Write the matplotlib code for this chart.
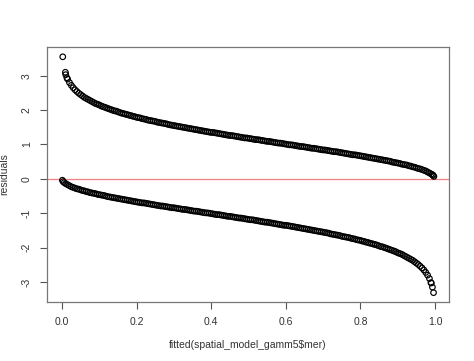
import matplotlib
matplotlib.use("Agg")
import matplotlib.pyplot as plt

# fitted probabilities (shared grids for the two bands)
fitted_mid = [0.01, 0.02, 0.03, 0.04, 0.05, 0.06, 0.07, 0.08, 0.09, 0.10,
              0.11, 0.12, 0.13, 0.14, 0.15, 0.16, 0.17, 0.18, 0.19, 0.20,
              0.21, 0.22, 0.23, 0.24, 0.25, 0.26, 0.27, 0.28, 0.29, 0.30,
              0.31, 0.32, 0.33, 0.34, 0.35, 0.36, 0.37, 0.38, 0.39, 0.40,
              0.41, 0.42, 0.43, 0.44, 0.45, 0.46, 0.47, 0.48, 0.49, 0.50,
              0.51, 0.52, 0.53, 0.54, 0.55, 0.56, 0.57, 0.58, 0.59, 0.60,
              0.61, 0.62, 0.63, 0.64, 0.65, 0.66, 0.67, 0.68, 0.69, 0.70,
              0.71, 0.72, 0.73, 0.74, 0.75, 0.76, 0.77, 0.78, 0.79, 0.80,
              0.81, 0.82, 0.83, 0.84, 0.85, 0.86, 0.87, 0.88, 0.89, 0.90,
              0.91, 0.92, 0.93, 0.94, 0.95, 0.96, 0.97, 0.98, 0.99]

fitted_half = [0.015, 0.025, 0.035, 0.045, 0.055, 0.065, 0.075, 0.085, 0.095, 0.105,
               0.115, 0.125, 0.135, 0.145, 0.155, 0.165, 0.175, 0.185, 0.195, 0.205,
               0.215, 0.225, 0.235, 0.245, 0.255, 0.265, 0.275, 0.285, 0.295, 0.305,
               0.315, 0.325, 0.335, 0.345, 0.355, 0.365, 0.375, 0.385, 0.395, 0.405,
               0.415, 0.425, 0.435, 0.445, 0.455, 0.465, 0.475, 0.485, 0.495, 0.505,
               0.515, 0.525, 0.535, 0.545, 0.555, 0.565, 0.575, 0.585, 0.595, 0.605,
               0.615, 0.625, 0.635, 0.645, 0.655, 0.665, 0.675, 0.685, 0.695, 0.705,
               0.715, 0.725, 0.735, 0.745, 0.755, 0.765, 0.775, 0.785, 0.795, 0.805,
               0.815, 0.825, 0.835, 0.845, 0.855, 0.865, 0.875, 0.885, 0.895, 0.905,
               0.915, 0.925, 0.935, 0.945, 0.955, 0.965, 0.975, 0.985]

# upper band (observed = 1)
upper_x = [0.002, 0.009, 0.013] + fitted_mid + fitted_half + [0.993, 0.995, 0.997]
upper_y = [3.55, 3.10, 2.94,
           3.03, 2.80, 2.65, 2.54, 2.45, 2.37, 2.31, 2.25, 2.19, 2.15,
           2.10, 2.06, 2.02, 1.98, 1.95, 1.91, 1.88, 1.85, 1.82, 1.79,
           1.77, 1.74, 1.71, 1.69, 1.67, 1.64, 1.62, 1.60, 1.57, 1.55,
           1.53, 1.51, 1.49, 1.47, 1.45, 1.43, 1.41, 1.39, 1.37, 1.35,
           1.34, 1.32, 1.30, 1.28, 1.26, 1.25, 1.23, 1.21, 1.19, 1.18,
           1.16, 1.14, 1.13, 1.11, 1.09, 1.08, 1.06, 1.04, 1.03, 1.01,
           0.99, 0.98, 0.96, 0.94, 0.93, 0.91, 0.89, 0.88, 0.86, 0.84,
           0.83, 0.81, 0.79, 0.78, 0.76, 0.74, 0.72, 0.70, 0.69, 0.67,
           0.65, 0.63, 0.61, 0.59, 0.57, 0.55, 0.53, 0.51, 0.48, 0.46,
           0.43, 0.41, 0.38, 0.35, 0.32, 0.29, 0.25, 0.20, 0.14,
           2.90, 2.72, 2.59, 2.49, 2.41, 2.34, 2.28, 2.22, 2.17, 2.12,
           2.08, 2.04, 2.00, 1.97, 1.93, 1.90, 1.87, 1.84, 1.81, 1.78,
           1.75, 1.73, 1.70, 1.68, 1.65, 1.63, 1.61, 1.58, 1.56, 1.54,
           1.52, 1.50, 1.48, 1.46, 1.44, 1.42, 1.40, 1.38, 1.36, 1.35,
           1.33, 1.31, 1.29, 1.27, 1.26, 1.24, 1.22, 1.20, 1.19, 1.17,
           1.15, 1.14, 1.12, 1.10, 1.09, 1.07, 1.05, 1.04, 1.02, 1.00,
           0.99, 0.97, 0.95, 0.94, 0.92, 0.90, 0.89, 0.87, 0.85, 0.84,
           0.82, 0.80, 0.79, 0.77, 0.75, 0.73, 0.71, 0.70, 0.68, 0.66,
           0.64, 0.62, 0.60, 0.58, 0.56, 0.54, 0.52, 0.49, 0.47, 0.45,
           0.42, 0.40, 0.37, 0.34, 0.30, 0.27, 0.23, 0.17,
           0.12, 0.10, 0.07]

# lower band (observed = 0)
lower_x = [0.001, 0.003, 0.006] + fitted_mid + fitted_half + [0.989, 0.993, 0.996]
lower_y = [-0.04, -0.08, -0.11,
           -0.14, -0.20, -0.25, -0.29, -0.32, -0.35, -0.38, -0.41, -0.43,
           -0.46, -0.48, -0.51, -0.53, -0.55, -0.57, -0.59, -0.61, -0.63,
           -0.65, -0.67, -0.69, -0.70, -0.72, -0.74, -0.76, -0.78, -0.79,
           -0.81, -0.83, -0.84, -0.86, -0.88, -0.89, -0.91, -0.93, -0.94,
           -0.96, -0.98, -0.99, -1.01, -1.03, -1.04, -1.06, -1.08, -1.09,
           -1.11, -1.13, -1.14, -1.16, -1.18, -1.19, -1.21, -1.23, -1.25,
           -1.26, -1.28, -1.30, -1.32, -1.34, -1.35, -1.37, -1.39, -1.41,
           -1.43, -1.45, -1.47, -1.49, -1.51, -1.53, -1.55, -1.57, -1.60,
           -1.62, -1.64, -1.67, -1.69, -1.71, -1.74, -1.77, -1.79, -1.82,
           -1.85, -1.88, -1.91, -1.95, -1.98, -2.02, -2.06, -2.10, -2.15,
           -2.19, -2.25, -2.31, -2.37, -2.45, -2.54, -2.65, -2.80, -3.03,
           -0.17, -0.23, -0.27, -0.30, -0.34, -0.37, -0.40, -0.42,
           -0.45, -0.47, -0.49, -0.52, -0.54, -0.56, -0.58, -0.60, -0.62, -0.64,
           -0.66, -0.68, -0.70, -0.71, -0.73, -0.75, -0.77, -0.79, -0.80, -0.82,
           -0.84, -0.85, -0.87, -0.89, -0.90, -0.92, -0.94, -0.95, -0.97, -0.99,
           -1.00, -1.02, -1.04, -1.05, -1.07, -1.09, -1.10, -1.12, -1.14, -1.15,
           -1.17, -1.19, -1.20, -1.22, -1.24, -1.26, -1.27, -1.29, -1.31, -1.33,
           -1.35, -1.36, -1.38, -1.40, -1.42, -1.44, -1.46, -1.48, -1.50, -1.52,
           -1.54, -1.56, -1.58, -1.61, -1.63, -1.65, -1.68, -1.70, -1.73, -1.75,
           -1.78, -1.81, -1.84, -1.87, -1.90, -1.93, -1.97, -2.00, -2.04, -2.08,
           -2.12, -2.17, -2.22, -2.28, -2.34, -2.41, -2.49, -2.59, -2.72, -2.90,
           -3.02, -3.15, -3.31]

x_ticks = [0.0, 0.2, 0.4, 0.6, 0.8, 1.0]
x_tick_labels = ["0.0", "0.2", "0.4", "0.6", "0.8", "1.0"]
y_ticks = [-3, -2, -1, 0, 1, 2, 3]
y_tick_labels = ["-3", "-2", "-1", "0", "1", "2", "3"]

plt.rcParams['font.family'] = ['Liberation Sans', 'DejaVu Sans']

fig = plt.figure(figsize=(4.74, 3.61), dpi=100)
ax = fig.add_axes([0.0992, 0.1634, 0.8481, 0.7064])

ax.scatter(upper_x, upper_y, s=16, facecolors='none', edgecolors='black',
           linewidths=0.85, zorder=3)
ax.scatter(lower_x, lower_y, s=16, facecolors='none', edgecolors='black',
           linewidths=0.85, zorder=3)
ax.axhline(0, color='#f28080', lw=0.9, zorder=2)

ax.set_xlim(-0.0402, 1.0375)
ax.set_ylim(-3.582, 3.835)

ax.set_xticks(x_ticks)
ax.set_xticklabels(x_tick_labels)
ax.set_yticks(y_ticks)
ax.set_yticklabels(y_tick_labels, rotation=90, va='center')

ax.tick_params(length=5, width=0.8, color='#555555', labelcolor='#333333',
               labelsize=7.5, pad=6)
for s in ax.spines.values():
    s.set_color('#777777')
    s.set_linewidth(0.9)

ax.set_xlabel(r"fitted(spatial_model_gamm5\$mer)", fontsize=7.5,
              color='#333333', labelpad=9)
ax.set_ylabel("residuals", fontsize=7.5, color='#333333', labelpad=9)

fig.savefig("out.png", dpi=100)
